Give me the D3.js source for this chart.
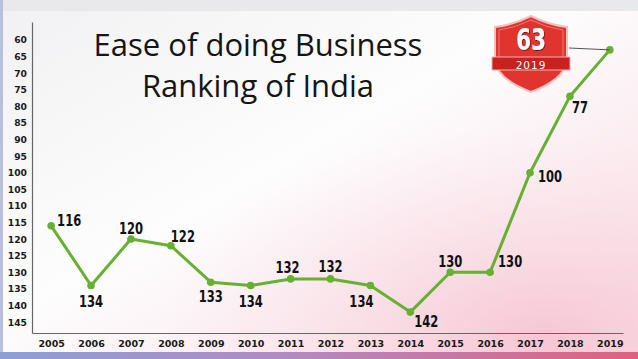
<!DOCTYPE html>
<html>
<head>
<meta charset="utf-8">
<script src="https://cdn.jsdelivr.net/npm/d3@7"></script>
<style>
  body { margin: 0; overflow: hidden; }
  svg { display: block; }
</style>
</head>
<body>
<div id="container"></div>
<script>
const years = [2005, 2006, 2007, 2008, 2009, 2010, 2011, 2012, 2013, 2014, 2015, 2016, 2017, 2018, 2019];
const ranks = [116, 134, 120, 122, 133, 134, 132, 132, 134, 142, 130, 130, 100, 77, 63];
const yTicks = [60, 65, 70, 75, 80, 85, 90, 95, 100, 105, 110, 115, 120, 125, 130, 135, 140, 145];
const titleLines = ["Ease of doing Business", "Ranking of India"];
const badgeYear = "2019";

const width = 638;
const height = 359;
const green = "#66b032";

const svg = d3.select("#container")
              .append("svg")
              .attr("width", width)
              .attr("height", height);

const defs = svg.append("defs");
const bg = defs.append("linearGradient").attr("id", "bg").attr("x1", 0).attr("y1", 0).attr("x2", 1).attr("y2", 1);
bg.append("stop").attr("offset", "0%").attr("stop-color", "#f1f1f3");
bg.append("stop").attr("offset", "45%").attr("stop-color", "#fdfdfd");
bg.append("stop").attr("offset", "100%").attr("stop-color", "#f9d9e2");
const pink = defs.append("radialGradient").attr("id", "pink").attr("cx", 0.85).attr("cy", 0.95).attr("r", 0.6);
pink.append("stop").attr("offset", "0%").attr("stop-color", "#f6c3d2").attr("stop-opacity", 0.9);
pink.append("stop").attr("offset", "100%").attr("stop-color", "#fbe3ea").attr("stop-opacity", 0);
const strip = defs.append("linearGradient").attr("id", "strip");
strip.append("stop").attr("offset", "0%").attr("stop-color", "#8e9fd6");
strip.append("stop").attr("offset", "45%").attr("stop-color", "#b28ac4");
strip.append("stop").attr("offset", "100%").attr("stop-color", "#e1607f");
const shadow = defs.append("filter").attr("id", "shadow");
shadow.append("feDropShadow").attr("dx", 1).attr("dy", 1).attr("stdDeviation", 0.6)
      .attr("flood-color", "#6a100e").attr("flood-opacity", 0.9);

svg.append("rect").attr("width", width).attr("height", height).attr("fill", "url(#bg)");
svg.append("rect").attr("width", width).attr("height", height).attr("fill", "url(#pink)");
svg.append("rect").attr("width", width).attr("height", 11).attr("fill", "#e9e9eb");
svg.append("rect").attr("width", 3).attr("height", height).attr("fill", "#b9c1da");
svg.append("rect").attr("y", 352).attr("width", width).attr("height", 7).attr("fill", "url(#strip)");

// scales, extended a little past first/last tick so the axis lines run like the picture
const xScale = d3.scaleLinear().domain([2004.52, 2019.33]).range([32, 623]);
const yScale = d3.scaleLinear().domain([54.6, 148.3]).range([22, 333]);

const xAxis = d3.axisBottom(xScale).tickValues(years).tickFormat(d3.format("d")).tickSize(0).tickPadding(7);
const gx = svg.append("g").attr("transform", "translate(0," + yScale(148.3) + ")").call(xAxis);
const yAxis = d3.axisLeft(yScale).tickValues(yTicks).tickSize(0).tickPadding(5);
const gy = svg.append("g").attr("transform", "translate(" + xScale(2004.52) + ",0)").call(yAxis);

[gx, gy].forEach((g) => {
  g.select(".domain").attr("stroke", "#666").attr("stroke-width", 1.2);
  g.selectAll("text")
   .attr("fill", "#1a1a1a")
   .style("font-family", "'DejaVu Sans', sans-serif")
   .style("font-weight", "bold");
});
gx.selectAll("text").style("font-size", "9.5px");
gy.selectAll("text").style("font-size", "9.2px");

const points = years.map((y, i) => ({ year: y, rank: ranks[i] }));

const line = d3.line().x((d) => xScale(d.year)).y((d) => yScale(d.rank));
svg.append("path")
   .datum(points)
   .attr("d", line)
   .attr("fill", "none")
   .attr("stroke", green)
   .attr("stroke-width", 3)
   .attr("stroke-linejoin", "round");

svg.selectAll("circle.dot")
   .data(points)
   .enter()
   .append("circle")
   .attr("class", "dot")
   .attr("cx", (d) => xScale(d.year))
   .attr("cy", (d) => yScale(d.rank))
   .attr("r", 3.8)
   .attr("fill", green);

// where each value label sits relative to its point
const labelPlace = {
  2005: [18, -6], 2006: [0, 15], 2007: [0, -11], 2008: [12, -10], 2009: [0, 14],
  2010: [0, 15], 2011: [-3, -12], 2012: [0, -13], 2013: [-9, 15], 2014: [16, 9],
  2015: [0, -11], 2016: [20, -11], 2017: [20, 3], 2018: [10, 11]
};
svg.selectAll("text.val")
   .data(points.filter((d) => labelPlace[d.year]))
   .enter()
   .append("text")
   .attr("class", "val")
   .attr("transform", (d) => "translate(" + (xScale(d.year) + labelPlace[d.year][0]) + "," +
                              (yScale(d.rank) + labelPlace[d.year][1]) + ") scale(0.7,1)")
   .attr("text-anchor", "middle")
   .attr("dy", "0.37em")
   .style("font-family", "'DejaVu Sans', sans-serif")
   .style("font-weight", "bold")
   .style("font-size", "16.5px")
   .attr("fill", "#111")
   .text((d) => d.rank);

// title
svg.selectAll("text.title")
   .data(titleLines)
   .enter()
   .append("text")
   .attr("class", "title")
   .attr("x", 258)
   .attr("y", (d, i) => 56 + i * 41)
   .attr("text-anchor", "middle")
   .style("font-family", "'Open Sans', Lato, sans-serif")
   .style("font-size", "31px")
   .attr("fill", "#151515")
   .text((d) => d);

// badge for the latest rank
const last = points[points.length - 1];
svg.append("line")
   .attr("x1", 569).attr("y1", 48)
   .attr("x2", xScale(last.year)).attr("y2", yScale(last.rank))
   .attr("stroke", "#555").attr("stroke-width", 1);

const badge = svg.append("g").attr("transform", "translate(531,0)");
badge.append("path")
     .attr("d", "M-36,27 Q-18,25 0,16 Q18,25 36,27 L36,62 Q32,80 0,92 Q-32,80 -36,62 Z")
     .attr("fill", "#e2342f")
     .attr("stroke", "#f6c0be")
     .attr("stroke-width", 2);
badge.append("path")
     .attr("d", "M-32,30 Q-16,28 0,20 Q16,28 32,30 L32,58 L-32,58 Z")
     .attr("fill", "none")
     .attr("stroke", "#f08a86")
     .attr("stroke-width", 0.8);
badge.append("rect")
     .attr("x", -39).attr("y", 57).attr("width", 78).attr("height", 13)
     .attr("fill", "#c9211f")
     .attr("stroke", "#f3b0ae").attr("stroke-width", 1);
badge.append("text")
     .attr("transform", "translate(0,50) scale(0.7,1)")
     .attr("text-anchor", "middle")
     .attr("filter", "url(#shadow)")
     .style("font-family", "'DejaVu Sans', sans-serif")
     .style("font-weight", "bold")
     .style("font-size", "31px")
     .attr("fill", "#fff")
     .text(last.rank);
badge.append("text")
     .attr("x", 0).attr("y", 68.5)
     .attr("text-anchor", "middle")
     .style("font-family", "'DejaVu Sans', sans-serif")
     .style("font-size", "10.5px")
     .style("letter-spacing", "1px")
     .attr("fill", "#fff")
     .text(badgeYear);
</script>
</body>
</html>
